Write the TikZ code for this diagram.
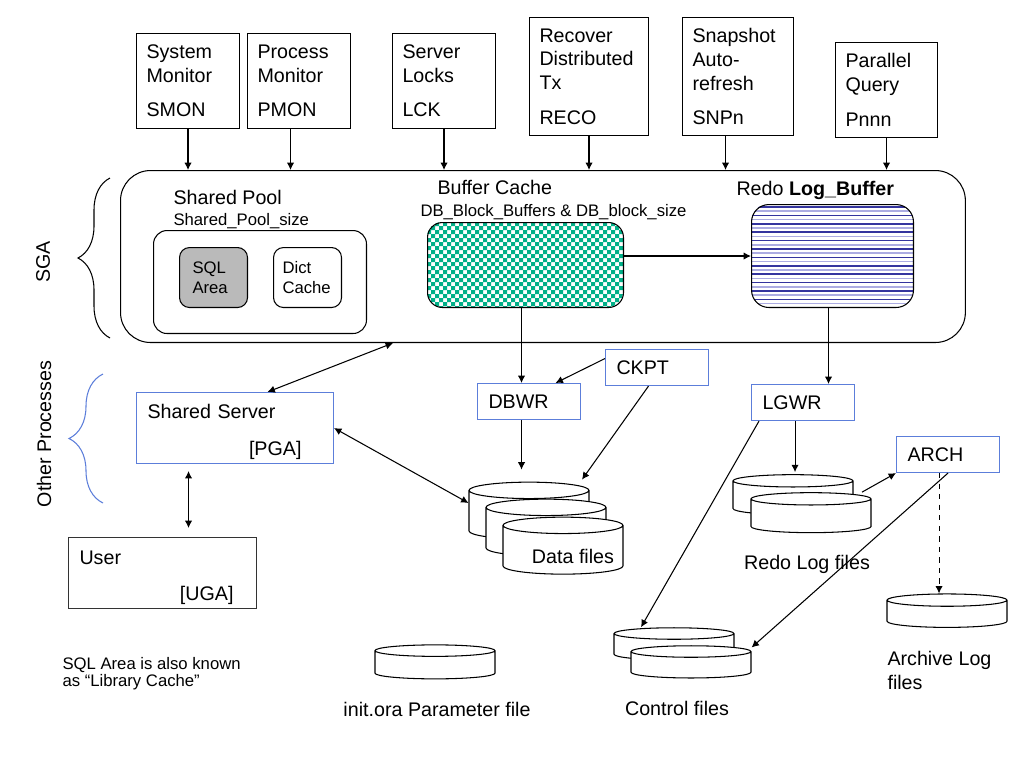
\documentclass[tikz,border=0pt]{standalone}
\usepackage{fontspec}
\setmainfont{Liberation Sans}
\usepackage{tikz}
\usetikzlibrary{arrows.meta,shapes.geometric,decorations.pathreplacing}
\definecolor{procblue}{RGB}{92,126,218}
\definecolor{chkteal}{RGB}{0,176,136}
\definecolor{redodark}{RGB}{52,52,158}
\definecolor{redolight}{RGB}{172,172,226}
\definecolor{sqlgray}{RGB}{186,186,186}

\begin{document}
\begin{tikzpicture}[x=0.02cm,y=-0.02cm,>={Latex[length=4.2pt,width=4.2pt]},line width=0.6pt,
  font=\fontsize{11.2}{13.6}\selectfont,
  smalltxt/.style={font=\fontsize{9.5}{11.3}\selectfont},
  topbox/.style={draw,anchor=north west,align=left,inner xsep=0.2cm,inner ysep=0pt},
  pbox/.style={draw=procblue,anchor=north west,align=left,text width=1.62cm,inner xsep=0.22cm,inner ysep=0pt,minimum height=0.72cm},
  dbcyl/.style={cylinder,shape border rotate=90,draw,fill=white,aspect=0.2,minimum width=2.4cm,inner sep=0pt},
  lbl/.style={anchor=base west,inner sep=0pt}]
\useasboundingbox (0,0) rectangle (1024,768);
\node[topbox,text width=1.66cm,minimum height=1.9cm] (smon) at (136,33) {System\\Monitor\\[6pt]SMON};
\node[topbox,text width=1.66cm,minimum height=1.9cm] (pmon) at (247,33) {Process\\Monitor\\[6pt]PMON};
\node[topbox,text width=1.66cm,minimum height=1.9cm] (lck) at (392,33) {Server\\Locks\\[6pt]LCK};
\node[topbox,text width=1.98cm,minimum height=2.36cm] (reco) at (529,17) {Recover\\Distributed\\Tx\\[6pt]RECO};
\node[topbox,text width=1.82cm,minimum height=2.36cm] (snp) at (682,17) {Snapshot\\Auto-\\refresh\\[6pt]SNPn};
\node[topbox,text width=1.64cm,minimum height=1.9cm] (pnnn) at (835,42) {Parallel\\Query\\[6pt]Pnnn};

\node[draw,rounded corners=0.6cm,minimum width=16.9cm,minimum height=3.44cm,anchor=north west] (sga) at (120,170) {};
\foreach \p/\s in {smon/0,pmon/-0.17,lck/0,reco/0,snp/-0.25,pnnn/0}
  \draw[->] ([xshift=\s cm]\p.south) -- ([xshift=\s cm]\p.south |- sga.north);

\node[lbl] (sptitle) at (173,204) {Shared Pool};
\node[lbl,smalltxt] (spsize) at (173,225) {Shared\_Pool\_size};
\node[draw,rounded corners=0.27cm,minimum width=4.26cm,minimum height=2.06cm,anchor=north west] (sp) at (153,230) {};
\node[draw,fill=sqlgray,rounded corners=0.2cm,anchor=north west,minimum height=1.2cm,text width=0.84cm,inner xsep=0.26cm,align=left,smalltxt] (sql) at (179,247) {SQL\\Area};
\node[draw,rounded corners=0.2cm,anchor=north west,minimum height=1.2cm,text width=1cm,inner xsep=0.18cm,align=left,smalltxt] (dict) at (273,247) {Dict\\Cache};

\node[lbl] (bctitle) at (437,194) {Buffer Cache};
\node[lbl,smalltxt] (bcsize) at (420,216) {DB\_Block\_Buffers \& DB\_block\_size};
\begin{scope}
\clip[rounded corners=0.3cm] (427,222) rectangle (623,307);
\fill[chkteal] \foreach \j in {0,...,21} {\foreach \i in {0,2,...,48} {({427+4*\i+4*mod(\j,2)},{222+4*\j}) rectangle ++(4,4)}};
\end{scope}
\node[draw,rounded corners=0.3cm,minimum width=3.92cm,minimum height=1.7cm,anchor=north west] (bc) at (427,222) {};

\node[lbl] (rbtitle) at (736,195) {Redo \textbf{Log\_Buffer}};
\begin{scope}
\clip[rounded corners=0.35cm] (751,204) rectangle (913,307);
\foreach \k in {0,...,12} {
  \draw[redodark,line width=0.85pt] (751,207+8.4*\k) -- (913,207+8.4*\k);
  \draw[redolight,line width=0.85pt] (751,211.2+8.4*\k) -- (913,211.2+8.4*\k);
}
\end{scope}
\node[draw,rounded corners=0.35cm,minimum width=3.24cm,minimum height=2.06cm,anchor=north west] (rb) at (751,204) {};
\draw[->] (bc.east |- rb.west) -- (rb.west);

\draw[decorate,decoration={brace,amplitude=0.64cm}] (110,338) -- (110,178);
\node[rotate=90] (sgalabel) at (43,262) {SGA};
\draw[procblue,decorate,decoration={brace,amplitude=0.68cm}] (103,503) -- (103,374);
\node[rotate=90] (oplabel) at (44,434) {Other Processes};

\node[pbox] (dbwr) at (477,383) {DBWR};
\node[pbox] (ckpt) at (605,349) {CKPT};
\node[pbox] (lgwr) at (751,384) {LGWR};
\node[pbox] (arch) at (896,436) {ARCH};

\node[draw=procblue,anchor=north west,align=left,text width=3.5cm,inner xsep=0.22cm,inner ysep=0pt,minimum height=1.42cm] (ss) at (136,392) {\rule{0pt}{0.45cm}Shared Server\\[7.4pt]\hspace*{0pt plus 1fill}[PGA]\rule{0.42cm}{0pt}};
\node[draw=black!80,anchor=north west,align=left,text width=3.32cm,inner xsep=0.22cm,inner ysep=0pt,minimum height=1.42cm] (user) at (68,537) {\rule{0pt}{0.45cm}User\\[7pt]\hspace*{0pt plus 1fill}[UGA]\rule{0.24cm}{0pt}};

\node[dbcyl,minimum height=1.14cm] (df1) at (529,515) {\phantom{Data files}};
\node[dbcyl,minimum height=1.14cm] (df2) at (546,532) {\phantom{Data files}};
\node[dbcyl,minimum height=1.14cm] (df3) at (563,550) {\phantom{Data files}};
\node[dbcyl,aspect=0.15,minimum height=0.8cm] (rl1) at (793,498) {\phantom{Data files}};
\node[dbcyl,aspect=0.15,minimum height=0.8cm] (rl2) at (811,516) {\phantom{Data files}};
\node[dbcyl,aspect=0.15,minimum height=0.64cm] (ar) at (947,614) {\phantom{Data files}};
\node[dbcyl,aspect=0.14,minimum height=0.64cm] (cf1) at (674,647) {\phantom{Data files}};
\node[dbcyl,aspect=0.14,minimum height=0.64cm] (cf2) at (691,665) {\phantom{Data files}};
\node[dbcyl,aspect=0.14,minimum height=0.68cm] (init) at (435,665) {\phantom{Data files}};

\node (dflabel) at (573,556) {Data files};
\node (rllabel) at (807,564) {Redo Log files};
\node[anchor=north west,align=left,inner sep=0pt] (arlabel) at (887,651) {Archive Log\\files};
\node (cflabel) at (677,708) {Control files};
\node (initlabel) at (437,709) {init.ora Parameter file};
\node[anchor=north west,align=left,inner sep=0pt,font=\fontsize{9.5}{9.6}\selectfont] (note) at (62,657) {SQL Area is also known\\as “Library Cache”};

\draw[<->] ([xshift=-3cm]sga.south) -- ([xshift=0.65cm]ss.north);
\draw[<->] (ss.east) -- ([yshift=0.24cm]df1.west);
\draw[<->,shorten <=0.14cm,shorten >=0.18cm] ([xshift=-0.93cm]ss.south) -- ([xshift=-0.93cm]ss.south |- user.north);
\draw[->] ([xshift=-0.08cm]bc.south) -- ([xshift=-0.08cm]bc.south |- dbwr.north);
\draw[->] ([xshift=-0.08cm]rb.south) -- ([xshift=-0.08cm]rb.south |- lgwr.north);
\draw[->] ([yshift=0.18cm]ckpt.west) -- ([xshift=0.53cm]dbwr.north);
\draw[->] ([xshift=-0.17cm]ckpt.south) -- ([xshift=1.06cm,yshift=0.04cm]df1.north);
\draw[->,shorten >=0.24cm] ([xshift=-0.15cm]dbwr.south) -- ([xshift=-0.15cm]dbwr.south |- df1.north);
\draw[->,shorten >=0.04cm] ([xshift=-0.16cm]lgwr.south) -- ([xshift=-0.16cm]lgwr.south |- rl1.north);
\draw[->] ([xshift=1.02cm]rl2.north) -- (arch.south west);
\draw[->] (arch.south) -- ([yshift=0.35cm]cf2.east);
\draw[->,dashed] ([xshift=-0.18cm]arch.south) -- ([xshift=-0.18cm]arch.south |- ar.north);
\draw[->] ([xshift=0.16cm]lgwr.south west) -- ([xshift=-0.66cm]cf1.north);
\end{tikzpicture}
\end{document}
